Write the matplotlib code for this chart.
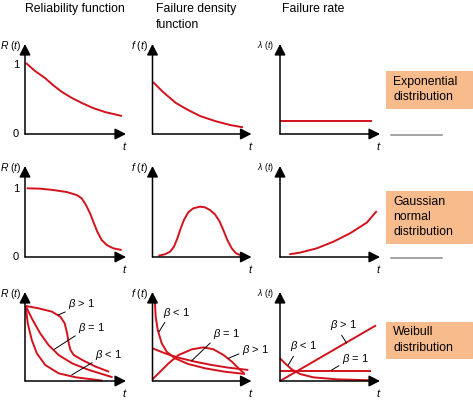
import matplotlib.pyplot as plt
from matplotlib.patches import Rectangle
from matplotlib.lines import Line2D

plt.rcParams['font.family'] = ['Liberation Sans', 'DejaVu Sans']
plt.rcParams['mathtext.fontset'] = 'custom'
plt.rcParams['mathtext.rm'] = 'Liberation Sans'
plt.rcParams['mathtext.it'] = 'Liberation Sans:italic'

# texts
col_titles = ['Reliability function', 'Failure density\nfunction', 'Failure rate']
y_names = [r'$R$ ($t$)', r'$f$ ($t$)', r'$\lambda$ ($t$)']
row_names = ['Exponential\ndistribution', 'Gaussian\nnormal\ndistribution', 'Weibull\ndistribution']
one_level = [0.767, 0.747, None]   # where R(t) = 1 sits on the R axis

# curves: t and value as fractions of the drawn axis
exp_R_t = [0.01, 0.099, 0.198, 0.277, 0.366, 0.465, 0.564, 0.673, 0.792, 0.96]
exp_R_v = [0.789, 0.70, 0.622, 0.544, 0.467, 0.40, 0.344, 0.289, 0.244, 0.20]
exp_f_t = [0.005, 0.106, 0.237, 0.359, 0.48, 0.631, 0.783, 0.914]
exp_f_v = [0.578, 0.467, 0.344, 0.267, 0.20, 0.144, 0.10, 0.074]
exp_l_t = [0.0, 0.92]
exp_l_v = [0.139, 0.139]

gau_R_t = [0.017, 0.149, 0.281, 0.413, 0.512, 0.561, 0.604, 0.644, 0.676, 0.716, 0.759, 0.809, 0.875, 0.957]
gau_R_v = [0.755, 0.751, 0.736, 0.714, 0.681, 0.645, 0.571, 0.48, 0.388, 0.278, 0.187, 0.132, 0.095, 0.077]
gau_f_t = [0.059, 0.126, 0.177, 0.217, 0.251, 0.285, 0.318, 0.361, 0.412, 0.48,
           0.53, 0.581, 0.631, 0.675, 0.715, 0.756, 0.80, 0.843, 0.891, 0.924]
gau_f_v = [0.014, 0.03, 0.058, 0.113, 0.205, 0.315, 0.407, 0.491, 0.535, 0.553,
           0.546, 0.516, 0.469, 0.396, 0.297, 0.187, 0.096, 0.041, 0.019, 0.011]
gau_l_t = [0.093, 0.2, 0.367, 0.533, 0.7, 0.867, 0.967]
gau_l_v = [0.03, 0.048, 0.095, 0.168, 0.26, 0.377, 0.505]

wb_R_gt_t = [0.007, 0.133, 0.267, 0.35, 0.393, 0.417, 0.433, 0.45, 0.483, 0.567, 0.70, 0.833]
wb_R_gt_v = [0.843, 0.817, 0.779, 0.722, 0.648, 0.536, 0.423, 0.348, 0.292, 0.236, 0.161, 0.104]
wb_R_eq_t = [0.007, 0.067, 0.15, 0.233, 0.333, 0.467, 0.633, 0.867]
wb_R_eq_v = [0.843, 0.704, 0.536, 0.404, 0.292, 0.198, 0.124, 0.042]
wb_R_lt_t = [0.007, 0.027, 0.067, 0.117, 0.20, 0.333, 0.50, 0.767]
wb_R_lt_v = [0.843, 0.648, 0.461, 0.311, 0.18, 0.086, 0.042, 0.004]

wb_f_lt_t = [0.025, 0.032, 0.053, 0.093, 0.143, 0.227, 0.361, 0.53, 0.732, 0.934]
wb_f_lt_v = [0.88, 0.723, 0.573, 0.424, 0.329, 0.255, 0.191, 0.143, 0.104, 0.079]
wb_f_eq_t = [0.0, 0.126, 0.261, 0.429, 0.598, 0.766, 0.968]
wb_f_eq_v = [0.367, 0.311, 0.262, 0.217, 0.18, 0.15, 0.124]
wb_f_gt_t = [0.0, 0.061, 0.162, 0.263, 0.398, 0.515, 0.616, 0.717, 0.802, 0.869, 0.93]
wb_f_gt_v = [0.019, 0.086, 0.198, 0.292, 0.356, 0.378, 0.356, 0.292, 0.217, 0.143, 0.079]

wb_l_gt_t = [0.0, 0.96]
wb_l_gt_v = [0.0, 0.625]
wb_l_eq_t = [0.0, 0.907]
wb_l_eq_v = [0.112, 0.112]
wb_l_lt_t = [0.0, 0.05, 0.117, 0.2, 0.333, 0.567, 0.90]
wb_l_lt_v = [0.255, 0.198, 0.131, 0.079, 0.041, 0.019, 0.008]

curves = [
    [[(exp_R_t, exp_R_v)], [(exp_f_t, exp_f_v)], [(exp_l_t, exp_l_v)]],
    [[(gau_R_t, gau_R_v)], [(gau_f_t, gau_f_v)], [(gau_l_t, gau_l_v)]],
    [[(wb_R_gt_t, wb_R_gt_v), (wb_R_eq_t, wb_R_eq_v), (wb_R_lt_t, wb_R_lt_v)],
     [(wb_f_lt_t, wb_f_lt_v), (wb_f_eq_t, wb_f_eq_v), (wb_f_gt_t, wb_f_gt_v)],
     [(wb_l_gt_t, wb_l_gt_v), (wb_l_eq_t, wb_l_eq_v), (wb_l_lt_t, wb_l_lt_v)]],
]

# beta labels: text, point on curve, text corner, where the leader meets the text
beta_labels = [
    [(r'$\beta$ > 1', (0.33, 0.742), (0.426, 0.781), (0.05, 0.1)),
     (r'$\beta$ = 1', (0.29, 0.356), (0.525, 0.522), (0.05, 0.1)),
     (r'$\beta$ < 1', (0.462, 0.067), (0.693, 0.219), (0.05, 0.1))],
    [(r'$\beta$ < 1', (0.066, 0.554), (0.106, 0.691), (0.15, 0.05)),
     (r'$\beta$ = 1', (0.396, 0.228), (0.611, 0.455), (0.05, 0.1)),
     (r'$\beta$ > 1', (0.766, 0.255), (0.901, 0.27), (0.0, 0.3))],
    [(r'$\beta$ > 1', (0.667, 0.424), (0.50, 0.545), (0.35, 0.05)),
     (r'$\beta$ < 1', (0.083, 0.18), (0.10, 0.309), (0.2, 0.05)),
     (r'$\beta$ = 1', (0.517, 0.124), (0.617, 0.174), (0.0, 0.1))],
]

# layout in pixels of the 473x400 picture
FW, FH = 473.0, 400.0
col_x0 = [25, 152.5, 280]
col_w = [101, 99, 100]
row_y0 = [134, 257, 381]
row_top = [44, 166, 292]
name_off = [-3.5, -5, -6.5]
name_size = [7.5, 7.5, 6.3]
box_y = [(71, 108), (191, 243), (322, 358)]

RED = '#d3121c'
ORANGE = '#f8bc8c'

fig = plt.figure(figsize=(4.73, 4.0), dpi=100)

for r in range(3):
    for c in range(3):
        ax = fig.add_axes([col_x0[c] / FW, 1 - row_y0[r] / FH,
                           col_w[c] / FW, (row_y0[r] - row_top[r]) / FH])
        ax.set_xlim(0, 1)
        ax.set_ylim(0, 1)
        ax.axis('off')
        arrow = dict(arrowstyle='-|>,head_length=0.55,head_width=0.28', color='black',
                     lw=1.1, shrinkA=0, shrinkB=0, mutation_scale=12)
        ax.annotate('', xy=(1, 0), xytext=(0, 0), xycoords='axes fraction', arrowprops=arrow)
        ax.annotate('', xy=(0, 1), xytext=(0, 0), xycoords='axes fraction', arrowprops=arrow)
        for t, v in curves[r][c]:
            ax.plot(t, v, color=RED, lw=1.4, clip_on=False, solid_capstyle='butt',
                    solid_joinstyle='round')
        ax.annotate(y_names[c], xy=(0, 1), xycoords='axes fraction',
                    xytext=(name_off[c], -2), textcoords='offset pixels',
                    ha='right', va='center', fontsize=name_size[c])
        ax.annotate('$t$', xy=(1, 0), xycoords='axes fraction', xytext=(-1, -12),
                    textcoords='offset pixels', ha='center', va='center', fontsize=8)
        if c == 0 and one_level[r] is not None:
            for lev, s in [(one_level[r], '1'), (0, '0')]:
                ax.annotate(s, xy=(0, lev), xycoords='axes fraction', xytext=(-9, 0),
                            textcoords='offset pixels', ha='center', va='center', fontsize=8)
        if r == 2:
            for s, pt, tx, rel in beta_labels[c]:
                ax.annotate(s, xy=pt, xytext=tx, ha='left', va='bottom', fontsize=8,
                            annotation_clip=False,
                            arrowprops=dict(arrowstyle='-', color='black', lw=0.7,
                                            shrinkA=0, shrinkB=0, relpos=rel))

# column titles
title_x = [25, 155.5, 281.5]
for c in range(3):
    fig.text(title_x[c] / FW, 1 - 3 / FH, col_titles[c], ha='left', va='top',
             fontsize=8.8, linespacing=1.4)

# distribution boxes and separators
for r in range(3):
    y1, y2 = box_y[r]
    fig.patches.append(Rectangle((386 / FW, 1 - y2 / FH), 86 / FW, (y2 - y1) / FH,
                                 transform=fig.transFigure, facecolor=ORANGE,
                                 edgecolor='#f3b382', lw=0.6))
    fig.text(393 / FW, 1 - (y1 + y2) / 2 / FH, row_names[r], ha='left', va='center',
             fontsize=8.8, linespacing=1.38)
    if r < 2:
        fig.add_artist(Line2D([391 / FW, 442 / FW], [1 - (row_y0[r] + 1) / FH] * 2,
                              transform=fig.transFigure, color='#8a8a8a', lw=1.1))

fig.savefig('out.png', dpi=100)
